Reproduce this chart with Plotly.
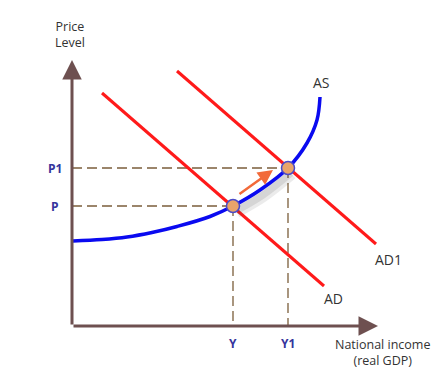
import plotly.graph_objects as go

# Data (abstract units: offset from origin of the diagram axes)
as_x = [1, 30, 55, 80, 105, 138, 161, 188, 216, 235, 245, 248]
as_y = [85, 86.5, 89, 93.5, 99.5, 109.5, 120, 136, 158, 183, 206, 229]
ad_x = [30, 252]
ad_y = [233, 40]
ad1_x = [105, 304]
ad1_y = [255, 82]
eq_x = [161, 216]      # Y, Y1
eq_y = [120, 158]      # P, P1
x_tick_labels = ["Y", "Y1"]
y_tick_labels = ["P", "P1"]
x_axis_end = 306
y_axis_end = 266
arrow_tail = (166, 131)
arrow_head = (201, 156)

DASH = "#7B5E3B"
AXIS = "#6E5050"
TICK = "#35359C"
LBL = "#333333"
FONT = "Open Sans"

fig = go.Figure()

# dashed guide lines
for xv, yv in zip(eq_x, eq_y):
    fig.add_trace(go.Scatter(x=[0, xv], y=[yv, yv], mode="lines",
                             line=dict(color=DASH, width=1.3, dash="10px,5px"),
                             hoverinfo="skip", showlegend=False))
    fig.add_trace(go.Scatter(x=[xv, xv], y=[yv, 0], mode="lines",
                             line=dict(color=DASH, width=1.3, dash="10px,5px"),
                             hoverinfo="skip", showlegend=False))

# AD curves
fig.add_trace(go.Scatter(x=ad_x, y=ad_y, mode="lines",
                         line=dict(color="#FF1A1A", width=3), showlegend=False))
fig.add_trace(go.Scatter(x=ad1_x, y=ad1_y, mode="lines",
                         line=dict(color="#FF1A1A", width=3), showlegend=False))

# shadow under AS between equilibria
sh_x = [v + 3 for v in as_x[6:9]]
sh_y = [v - 5 for v in as_y[6:9]]
fig.add_trace(go.Scatter(x=sh_x, y=sh_y, mode="lines", line_shape="spline",
                         line=dict(color="rgba(60,60,60,0.10)", width=14),
                         hoverinfo="skip", showlegend=False))
fig.add_trace(go.Scatter(x=sh_x, y=sh_y, mode="lines", line_shape="spline",
                         line=dict(color="rgba(60,60,60,0.12)", width=7),
                         hoverinfo="skip", showlegend=False))

# AS curve
fig.add_trace(go.Scatter(x=as_x, y=as_y, mode="lines", line_shape="spline",
                         line=dict(color="#0A0AF0", width=3.5, smoothing=1.0),
                         showlegend=False))

# equilibrium points
fig.add_trace(go.Scatter(x=eq_x, y=eq_y, mode="markers",
                         marker=dict(size=13, color="#E9A46A",
                                     line=dict(color="#4A4AC8", width=1.5)),
                         showlegend=False))

ann = []
# axes with arrowheads
ann.append(dict(x=0, y=y_axis_end, ax=0, ay=0, xref="x", yref="y", axref="x", ayref="y",
                showarrow=True, arrowhead=2, arrowsize=1.3, arrowwidth=3, arrowcolor=AXIS, text=""))
ann.append(dict(x=x_axis_end, y=0, ax=0, ay=0, xref="x", yref="y", axref="x", ayref="y",
                showarrow=True, arrowhead=2, arrowsize=1.3, arrowwidth=3, arrowcolor=AXIS, text=""))
# shift arrow
ann.append(dict(x=arrow_head[0], y=arrow_head[1], ax=arrow_tail[0], ay=arrow_tail[1],
                xref="x", yref="y", axref="x", ayref="y", showarrow=True, arrowhead=2,
                arrowsize=1.2, arrowwidth=2.5, arrowcolor="#F26A3A", text=""))

# tick labels
for xv, t in zip(eq_x, x_tick_labels):
    ann.append(dict(x=xv, y=-17, xref="x", yref="y", text="<b>%s</b>" % t, showarrow=False,
                    font=dict(family=FONT, size=12, color=TICK)))
for yv, t in zip(eq_y, y_tick_labels):
    ann.append(dict(x=-17, y=yv, xref="x", yref="y", text="<b>%s</b>" % t, showarrow=False,
                    font=dict(family=FONT, size=12, color=TICK)))

# curve labels
ann.append(dict(x=249, y=244, xref="x", yref="y", text="AS", showarrow=False,
                font=dict(family=FONT, size=14, color=LBL)))
ann.append(dict(x=316, y=67, xref="x", yref="y", text="AD1", showarrow=False,
                font=dict(family=FONT, size=14, color=LBL)))
ann.append(dict(x=261, y=28, xref="x", yref="y", text="AD", showarrow=False,
                font=dict(family=FONT, size=14, color=LBL)))

# axis titles
ann.append(dict(x=-2, y=292, xref="x", yref="y", text="Price<br>Level", showarrow=False,
                font=dict(family=FONT, size=12.5, color=LBL)))
ann.append(dict(x=310, y=-26, xref="x", yref="y", text="National income<br>(real GDP)",
                showarrow=False, font=dict(family=FONT, size=12.5, color=LBL)))

fig.update_layout(
    width=448, height=381, margin=dict(l=0, r=0, t=0, b=0),
    paper_bgcolor="white", plot_bgcolor="white",
    xaxis=dict(range=[-72, 376], visible=False, fixedrange=True),
    yaxis=dict(range=[-55, 326], visible=False, fixedrange=True),
    annotations=ann, showlegend=False,
)

fig.write_html("out.html")
